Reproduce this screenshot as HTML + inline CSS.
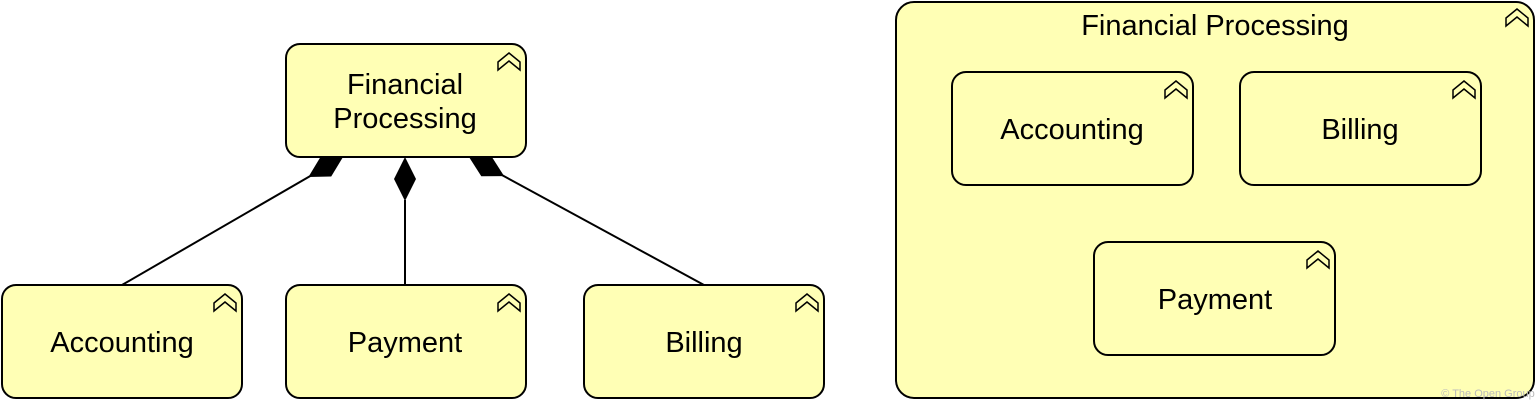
<!DOCTYPE html>
<html><head><meta charset="utf-8"><style>html,body{margin:0;padding:0;background:#fff}svg{display:block}</style></head>
<body>
<svg width="1536" height="400" viewBox="0 0 1536 400" xmlns="http://www.w3.org/2000/svg" font-family="Liberation Sans, sans-serif" font-size="29" text-anchor="middle">
<defs>
<g id="ic"><path d="M0,9 L11,0 L22,9 L22,17 L11,8 L0,17 Z" fill="none" stroke="#000" stroke-width="1.5" stroke-linejoin="miter"/></g>
</defs>
<g stroke="#000" stroke-width="2" fill="#ffffb5">
<rect x="896" y="2" width="638" height="396" rx="18"/>
<rect x="286" y="44" width="240" height="113" rx="14"/>
<rect x="2" y="285" width="240" height="113" rx="14"/>
<rect x="286" y="285" width="240" height="113" rx="14"/>
<rect x="584" y="285" width="240" height="113" rx="14"/>
<rect x="952" y="72" width="241" height="113" rx="14"/>
<rect x="1240" y="72" width="241" height="113" rx="14"/>
<rect x="1094" y="242" width="241" height="113" rx="14"/>
</g>
<g stroke="#000" stroke-width="2" fill="none">
<line x1="122" y1="285" x2="312" y2="175"/>
<line x1="405" y1="285" x2="405" y2="200"/>
<line x1="704" y1="285" x2="500" y2="174"/>
</g>
<g fill="#000">
<polygon points="0,0 -20,11 -40,0 -20,-11" transform="translate(343,157) rotate(-30.1)"/>
<polygon points="0,0 -22,11 -44,0 -22,-11" transform="translate(405,157) rotate(-90)"/>
<polygon points="0,0 -20,11 -40,0 -20,-11" transform="translate(469,157) rotate(-151.4)"/>
</g>
<g>
<use href="#ic" x="498" y="53"/>
<use href="#ic" x="214" y="294"/>
<use href="#ic" x="498" y="294"/>
<use href="#ic" x="796" y="294"/>
<use href="#ic" x="1506" y="9"/>
<use href="#ic" x="1165" y="81"/>
<use href="#ic" x="1453" y="81"/>
<use href="#ic" x="1307" y="251"/>
</g>
<g fill="#000">
<text x="405" y="94">Financial</text>
<text x="405" y="128">Processing</text>
<text x="122" y="352">Accounting</text>
<text x="405" y="352">Payment</text>
<text x="704" y="352">Billing</text>
<text x="1215" y="35">Financial Processing</text>
<text x="1072" y="139">Accounting</text>
<text x="1360" y="139">Billing</text>
<text x="1215" y="309">Payment</text>
</g>
<text x="1488" y="397" font-size="11" fill="#bbb">© The Open Group</text>
</svg>
</body></html>
